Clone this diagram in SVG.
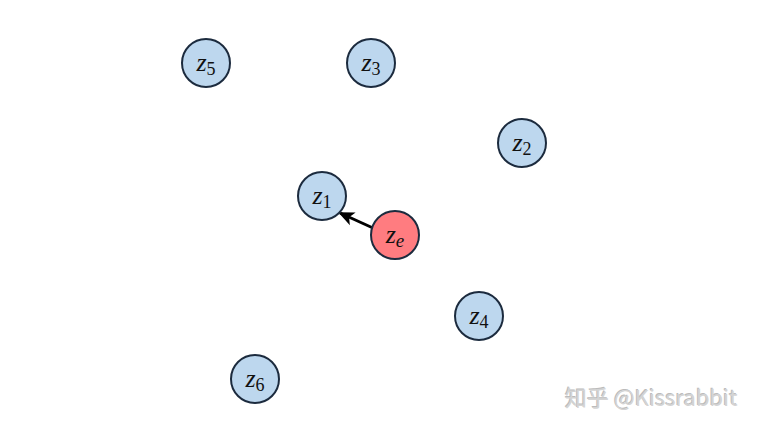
<svg xmlns="http://www.w3.org/2000/svg" width="762" height="429" viewBox="0 0 762 429">
<defs>
<style>
.n{fill:#bdd7ee;stroke:#1c2b3e;stroke-width:2}
.r{fill:#ff7c80;stroke:#1c2b3e;stroke-width:2}
.t{font-family:"Liberation Serif","DejaVu Serif",serif;font-size:26px;font-style:italic;fill:#111;text-anchor:middle}
.s{font-size:18px;font-style:normal}
.se{font-size:19px;font-style:italic}
.w{font-family:"Noto Sans CJK SC","Liberation Sans",sans-serif;font-size:22px;fill:#d4d4d4}
</style>
<marker id="ah" markerWidth="16" markerHeight="16" refX="14" refY="8" orient="auto" markerUnits="userSpaceOnUse" viewBox="0 0 16 16">
<path d="M0,1 L16,8 L0,15 L4,8 Z" fill="#000"/>
</marker>
</defs>
<rect width="762" height="429" fill="#fff"/>
<g id="connectors">
<line x1="373" y1="228" x2="340" y2="213" stroke="#000" stroke-width="3" marker-end="url(#ah)"/>
</g>
<g id="z5"><circle class="n" cx="206" cy="63" r="24"/><text class="t" x="206" y="71">z<tspan class="s" dy="4">5</tspan></text></g>
<g id="z3"><circle class="n" cx="371" cy="63" r="24"/><text class="t" x="371" y="71">z<tspan class="s" dy="4">3</tspan></text></g>
<g id="z2"><circle class="n" cx="522" cy="143" r="24"/><text class="t" x="522" y="151">z<tspan class="s" dy="4">2</tspan></text></g>
<g id="z1"><circle class="n" cx="322" cy="196" r="24"/><text class="t" x="322" y="204">z<tspan class="s" dy="4">1</tspan></text></g>
<g id="ze"><circle class="r" cx="395" cy="235" r="24"/><text class="t" x="395" y="243">z<tspan class="se" dy="4">e</tspan></text></g>
<g id="z4"><circle class="n" cx="479" cy="316" r="24"/><text class="t" x="479" y="324">z<tspan class="s" dy="4">4</tspan></text></g>
<g id="z6"><circle class="n" cx="255" cy="379" r="24"/><text class="t" x="255" y="387">z<tspan class="s" dy="4">6</tspan></text></g>
<g id="watermark">
<text class="w" x="565" y="406" transform="translate(-1,-1)" style="fill:#bcbcbc">知乎 @Kissrabbit</text>
<text class="w" x="565" y="406">知乎 @Kissrabbit</text>
</g>
</svg>
